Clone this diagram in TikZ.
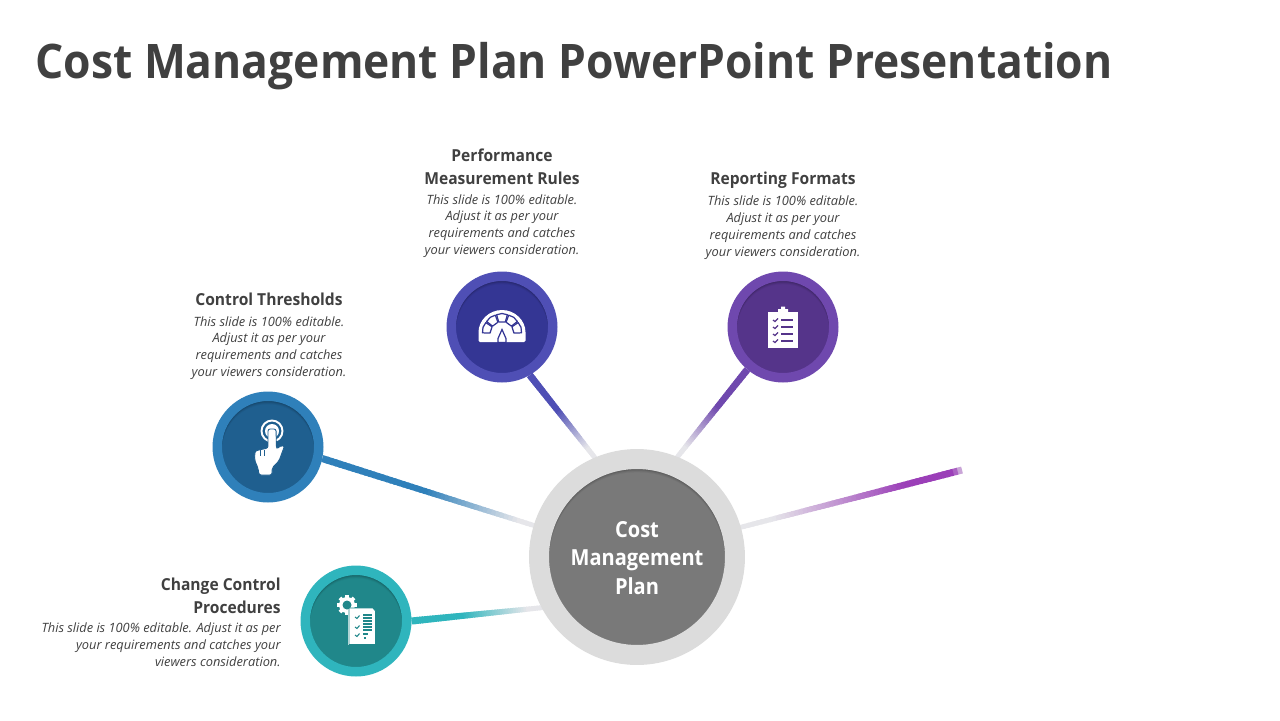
\documentclass[tikz,border=0pt]{standalone}
\usepackage{fontspec}
\setmainfont{Open Sans}
\usetikzlibrary{calc,backgrounds}
\definecolor{titlegray}{HTML}{404040}
\definecolor{hubring}{HTML}{DCDCDC}
\definecolor{hubdisc}{HTML}{797979}
\definecolor{fadegray}{HTML}{E6E6EA}
\definecolor{perfring}{HTML}{4F4FB5}
\definecolor{perfdisc}{HTML}{343694}
\definecolor{repring}{HTML}{6F48AE}
\definecolor{repdisc}{HTML}{55348A}
\definecolor{ctrlring}{HTML}{2F80BA}
\definecolor{ctrldisc}{HTML}{1F5F8F}
\definecolor{chgring}{HTML}{2FB5BD}
\definecolor{chgdisc}{HTML}{20878A}
\definecolor{sidepurple}{HTML}{9B3FB8}
\tikzset{
  titletext/.style={anchor=base west, inner sep=0, text=titlegray, font=\fontsize{27.1}{32}\selectfont\bfseries\addfontfeatures{FakeStretch=0.932}},
  headtext/.style={inner sep=0, text=titlegray, font=\fontsize{9.4}{13}\selectfont\bfseries\addfontfeatures{FakeStretch=0.945}},
  bodytext/.style={inner sep=0, text=titlegray, font=\fontsize{7.3}{9.55}\selectfont\itshape},
  discnode/.style n args={3}{circle, inner sep=0, fill=#2!72!black, draw=#1,
    path picture={
      \foreach \k/\m in {0/76,1/84,2/91,3/96,4/100}
        \fill[#2!\m!black] ([yshift=-\k*0.016cm]path picture bounding box.center) circle ({#3cm-\k*0.001cm});
    }},
  smalldisc/.style n args={2}{discnode={#1}{#2}{0.92}, minimum size=2.03cm, line width=0.19cm},
  iconfill/.style={fill=white, draw=none},
}
\begin{document}
\begin{tikzpicture}[x=0.02cm, y=-0.02cm]
\useasboundingbox (0,0) rectangle (1280,720);
\node[titletext] (title) at (35.2,78) {Cost Management Plan PowerPoint Presentation};
% hub and the four circles
\node[discnode={hubring}{hubdisc}{1.76}, minimum size=3.92cm, line width=0.4cm] (hub) at (637,557) {};
\node[text=white, align=center, inner sep=0, font=\fontsize{12.6}{16.2}\selectfont\bfseries\addfontfeatures{FakeStretch=0.905}] (hublabel) at (637,558) {Cost\\Management\\Plan};
\node[smalldisc={perfring}{perfdisc}] (perf) at (502,327) {};
\node[smalldisc={repring}{repdisc}] (rep) at (783,327) {};
\node[smalldisc={ctrlring}{ctrldisc}] (ctrl) at (268,447) {};
\node[smalldisc={chgring}{chgdisc}] (chg) at (356,621) {};
\coordinate (sideend) at (962,470);
% connectors, fading out towards the hub
\begin{scope}[on background layer]
\foreach \from/\to/\col/\tip/\fa/\fb in {perf.-60/hub.113/perfring/1/0.42/0.88, rep.-130/hub.68/repring/1/0.42/0.88, ctrl.-12/hub.163/ctrlring/1/0.48/0.92, chg.0/hub.208/chgring/1/0.38/0.88, sideend/hub.16/sidepurple/0.4/0.25/0.85} {
  \foreach \i in {0,...,49} {
    \pgfmathsetmacro{\t}{\i/50}
    \pgfmathsetmacro{\tend}{\t+0.03}
    \pgfmathsetmacro{\wd}{4-1.3*\t}
    \pgfmathtruncatemacro{\pct}{max(0,min(100,100*(\fb-\t)/(\fb-\fa)))*min(1,\tip+\t*20)}
    \draw[line width=\wd pt, color=\col!\pct!fadegray] ($(\from)!\t!(\to)$) -- ($(\from)!\tend!(\to)$);
  }
}
\end{scope}
% labels
\node[headtext, align=center] (perfhead) at (502,166.5) {Performance\\Measurement Rules};
\node[bodytext, align=center] (perfbody) at (502,226) {This slide is 100\% editable.\\Adjust it as per your\\requirements and catches\\your viewers consideration.};
\node[headtext] (rephead) at (783,180.5) {Reporting Formats};
\node[bodytext, align=center] (repbody) at (783,227.5) {This slide is 100\% editable.\\Adjust it as per your\\requirements and catches\\your viewers consideration.};
\node[headtext] (ctrlhead) at (269,299) {Control Thresholds};
\node[bodytext, align=center] (ctrlbody) at (269,348) {This slide is 100\% editable.\\Adjust it as per your\\requirements and catches\\your viewers consideration.};
\node[headtext, align=right, anchor=east] (chghead) at (281,595.5) {Change Control\\Procedures};
\node[bodytext, align=right, anchor=east] (chgbody) at (281,644.5) {This slide is 100\% editable. Adjust it as per\\your requirements and catches your\\viewers consideration.};
% gauge icon
\begin{scope}[shift={(502,333.5)}]
  \fill[iconfill, rounded corners=0.8pt] (-23.5,8.5) -- (-23.5,0) arc[start angle=180, end angle=0, x radius=23.5, y radius=-23.5] -- (23.5,8.5) -- cycle;
  \foreach \a in {-180,-144,-108,-72,-36}
    \draw[perfdisc, line width=0.7pt, line join=round] (\a+2:12) -- (\a+2:19.5) -- (\a+18:20) -- (\a+34:19.5) -- (\a+34:12) -- (\a+18:11.5) -- cycle;
  \fill[iconfill] (0,0) circle (8);
  \fill[white, draw=perfdisc, line width=0.7pt] (0,-4) -- (-4,5) -- (-4,9) -- (4,9) -- (4,5) -- cycle;
\end{scope}
% clipboard icon
\fill[iconfill] (768,312) rectangle (798,348);
\fill[iconfill] (778,312) -- (778,309) -- (781,309) -- (781,306.5) -- (785,306.5) -- (785,309) -- (788,309) -- (788,312) -- cycle;
\foreach \y in {320,327,334,341} {
  \draw[repdisc, line width=0.7pt] (773,\y) -- (775,\y+1.5) -- (778,\y-1.5);
  \draw[repdisc, line width=0.7pt] (781,\y) -- (793,\y);
}
% hand icon
\draw[white, line width=1.1pt] (272,431) circle (10.5);
\fill[white] (272,431) circle (7);
\fill[iconfill, draw=ctrldisc, line width=0.5pt, rounded corners=1.2pt] (268,429) -- (276,429) -- (276.5,449) -- (282,445) -- (284.5,446) -- (279,461) -- (272,468) -- (272,475) -- (259,475) -- (258,468) -- (254.5,460) -- (255,451) -- (259,450) -- (268,448) -- cycle;
\foreach \x in {260,264}
  \draw[ctrldisc, line width=0.5pt] (\x,450) -- (\x,456);
% document with gear icon
\fill[iconfill] (347,605) circle (8);
\foreach \a in {0,45,...,315}
  \fill[iconfill, rotate around={\a:(347,605)}] (345.2,595) rectangle (348.8,599);
\fill[chgdisc] (347,605) circle (4.5);
\fill[iconfill] (347.5,611) rectangle (370,645);
\draw[chgdisc, fill=white, line width=0.5pt] (349,608) -- (373,608) -- (375.5,611) -- (375.5,644.5) -- (349,644.5) -- cycle;
\foreach \y in {617,627,635} {
  \draw[chgdisc, line width=0.6pt] (355,\y) -- (357,\y+1.5) -- (359.5,\y-1.5);
}
\foreach \y in {615,618,621,624,627,630}
  \draw[chgdisc, line width=0.6pt] (363,\y) -- (372,\y);
\draw[chgdisc, line width=0.6pt] (363,634) -- (368,634);
\draw[chgdisc, line width=0.6pt] (364,638) -- (366,638);
\end{tikzpicture}
\end{document}
